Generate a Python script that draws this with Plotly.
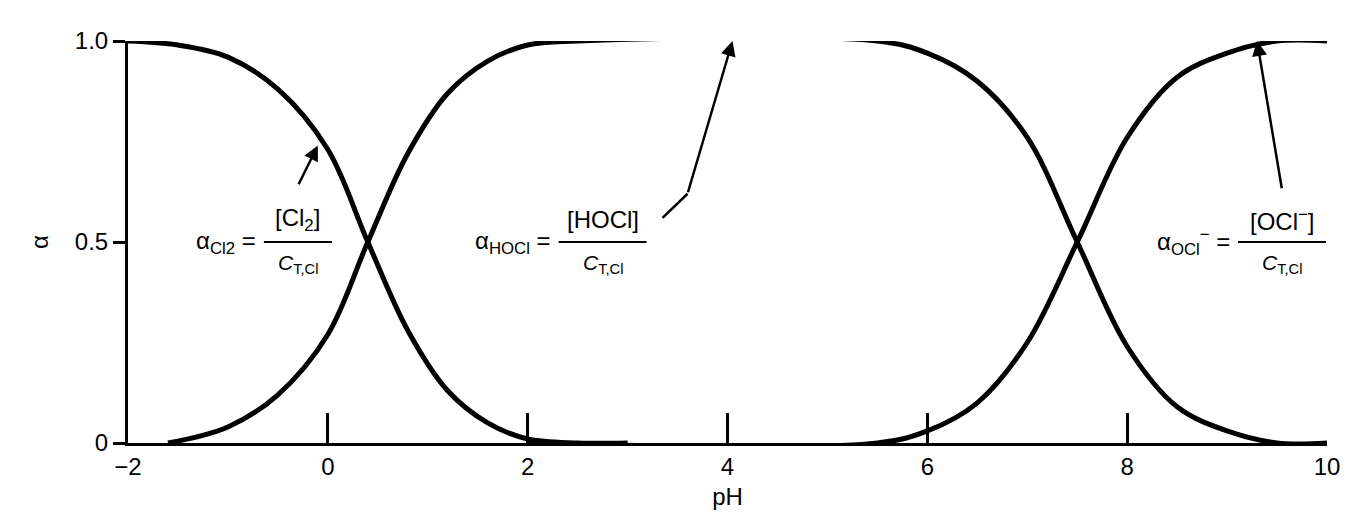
import plotly.graph_objects as go

ph_cl2 = [-2, -1.5, -1, -0.5, 0, 0.4, 0.8, 1.2, 1.6, 2, 2.5, 3]
a_cl2 = [1.0, 0.99, 0.96, 0.88, 0.73, 0.5, 0.28, 0.13, 0.05, 0.01, 0.0, 0.0]

ph_hocl = [-1.6, -1, -0.5, 0, 0.4, 0.8, 1.2, 1.6, 2, 2.5, 5.5, 6, 6.5, 7, 7.5, 8, 8.5, 9, 9.5, 10]
a_hocl = [0.0, 0.04, 0.12, 0.27, 0.5, 0.72, 0.87, 0.95, 0.99, 1.0, 1.0, 0.97, 0.9, 0.76, 0.5, 0.24, 0.09, 0.03, 0.0, 0.0]

ph_ocl = [2, 5.5, 6, 6.5, 7, 7.5, 8, 8.5, 9, 9.5, 10]
a_ocl = [0.0, 0.0, 0.03, 0.1, 0.25, 0.5, 0.76, 0.91, 0.97, 1.0, 1.0]

x_ticks = [-2, 0, 2, 4, 6, 8, 10]
y_ticks = [0, 0.5, 1.0]
y_labels = ["0", "0.5", "1.0"]

fig = go.Figure()
for xs, ys in [(ph_cl2, a_cl2), (ph_hocl, a_hocl), (ph_ocl, a_ocl)]:
    fig.add_trace(go.Scatter(x=xs, y=ys, mode='lines', line=dict(color='black', width=5, shape='spline'),
                             showlegend=False, cliponaxis=False))

font = dict(family='Liberation Sans', size=24, color='black')

def frac(x, y, lhs, num, den, dx):
    fig.add_annotation(x=x, y=y, text=lhs + " =", showarrow=False, xanchor='right', font=font)
    fig.add_annotation(x=x + dx, y=y + 0.055, text=num, showarrow=False, font=font)
    fig.add_annotation(x=x + dx, y=y - 0.055, text=den, showarrow=False, font=dict(font, size=21))
    fig.add_shape(type='line', x0=x + 0.06, x1=x + 2 * dx - 0.06, y0=y, y1=y, line=dict(color='black', width=2))

frac(-0.7, 0.5, "α<sub>Cl2</sub>", "[Cl<sub>2</sub>]", "<i>C</i><sub>T,Cl</sub>", 0.4)
frac(2.25, 0.5, "α<sub>HOCl</sub>", "[HOCl]", "<i>C</i><sub>T,Cl</sub>", 0.5)
frac(9.05, 0.5, "α<sub>OCl</sub><sup>−</sup>", "[OCl<sup>−</sup>]", "<i>C</i><sub>T,Cl</sub>", 0.5)

arrow = dict(showarrow=True, arrowhead=2, arrowsize=1.2, arrowwidth=2.5, arrowcolor='black', text='', axref='x', ayref='y')
fig.add_annotation(x=-0.1, y=0.74, ax=-0.3, ay=0.64, **arrow)
fig.add_annotation(x=4.05, y=1.0, ax=3.6, ay=0.62, **arrow)
fig.add_annotation(x=9.3, y=1.0, ax=9.55, ay=0.63, **arrow)
fig.add_shape(type='line', x0=3.6, y0=0.62, x1=3.35, y1=0.56, line=dict(color='black', width=2.5))

fig.update_layout(
    width=1353, height=512, plot_bgcolor='white', paper_bgcolor='white',
    margin=dict(l=120, r=34, t=33, b=77),
    xaxis=dict(range=[-2, 10], tickvals=x_ticks, ticktext=["−2", "0", "2", "4", "6", "8", "10"],
               showgrid=False, zeroline=False, showline=True, linecolor='black', linewidth=3,
               ticks='inside', ticklen=30, tickwidth=3, tickcolor='black', tickfont=font,
               title=dict(text='pH', font=font, standoff=10)),
    yaxis=dict(range=[0, 1.0], tickvals=y_ticks, ticktext=y_labels,
               showgrid=False, zeroline=False, showline=True, linecolor='black', linewidth=3,
               ticks='outside', ticklen=12, tickwidth=3, tickcolor='black', tickfont=font,
               title=dict(text='α', font=font, standoff=20)),
)

fig.write_html("out.html")
